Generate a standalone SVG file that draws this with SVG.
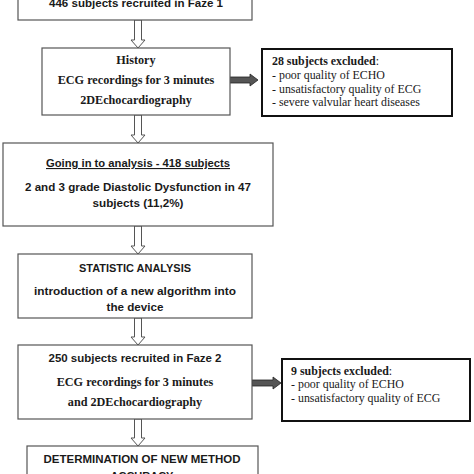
<svg xmlns="http://www.w3.org/2000/svg" width="474" height="474" viewBox="0 0 474 474">
<defs>
<style>
.box{fill:#fff;stroke:#555;stroke-width:1.2}
.ex{fill:#fff;stroke:#111;stroke-width:2}
.sans{font-family:"Liberation Sans",Arial,sans-serif;font-weight:bold;font-size:11px;fill:#1a1a1a;text-anchor:middle}
.serif{font-family:"Liberation Serif","Times New Roman",serif;font-weight:bold;font-size:12.2px;fill:#1a1a1a;text-anchor:middle}
.exs{font-family:"Liberation Serif","Times New Roman",serif;font-size:11.9px;fill:#1a1a1a}
.down{fill:#fff;stroke:#555;stroke-width:1}
.right{fill:#555;stroke:#222;stroke-width:0.8}
</style>
</defs>
<rect width="474" height="474" fill="#fff"/>
<g id="connectors">
<path class="down" d="M134.5,20 H141.5 V40 H145 L138,48 L131,40 H134.5 Z"/>
<path class="down" d="M134.5,115 H141.5 V135 H145 L138,143 L131,135 H134.5 Z"/>
<path class="down" d="M134.5,226 H141.5 V246 H145 L138,254 L131,246 H134.5 Z"/>
<path class="down" d="M134.5,318 H141.5 V337 H145 L138,345 L131,337 H134.5 Z"/>
<path class="down" d="M134.5,419 H141.5 V438 H145 L138,446 L131,438 H134.5 Z"/>
<path class="right" d="M229,77 H250 V74 L258,80 L250,86 V83 H229 Z"/>
<path class="right" d="M252,380 H273 V377 L281,383 L273,389 V386 H252 Z"/>
</g>
<g id="n1">
<rect class="box" x="18" y="-10" width="234" height="30"/>
<text class="sans" x="136" y="7" textLength="174" lengthAdjust="spacingAndGlyphs">446 subjects recruited in Faze 1</text>
</g>
<g id="n2">
<rect class="box" x="42" y="48" width="188" height="67"/>
<text class="serif" x="136" y="64">History</text>
<text class="serif" x="136" y="84">ECG recordings for 3 minutes</text>
<text class="serif" x="136" y="104">2DEchocardiography</text>
</g>
<g id="ex1">
<rect class="ex" x="262" y="49" width="190" height="67"/>
<text class="exs" x="272" y="65"><tspan font-weight="bold">28 subjects excluded</tspan>:</text>
<text class="exs" x="272" y="79">- poor quality of ECHO</text>
<text class="exs" x="272" y="92.5">- unsatisfactory quality of ECG</text>
<text class="exs" x="272" y="106">- severe valvular heart diseases</text>
</g>
<g id="n3">
<rect class="box" x="3" y="143" width="270" height="83"/>
<text class="sans" x="138" y="167" textLength="184" lengthAdjust="spacingAndGlyphs" text-decoration="underline">Going in to analysis - 418 subjects</text>
<text class="sans" x="138" y="191" textLength="226" lengthAdjust="spacingAndGlyphs">2 and 3 grade Diastolic Dysfunction in  47</text>
<text class="sans" x="138" y="207" textLength="91" lengthAdjust="spacingAndGlyphs">subjects (11,2%)</text>
</g>
<g id="n4">
<rect class="box" x="18" y="254" width="234" height="64"/>
<text class="sans" x="135" y="272" textLength="112" lengthAdjust="spacingAndGlyphs">STATISTIC ANALYSIS</text>
<text class="sans" x="135" y="295" textLength="202" lengthAdjust="spacingAndGlyphs">introduction of a new algorithm into</text>
<text class="sans" x="135" y="311" textLength="57" lengthAdjust="spacingAndGlyphs">the device</text>
</g>
<g id="n5">
<rect class="box" x="18" y="345" width="234" height="74"/>
<text class="sans" x="135" y="362" textLength="173" lengthAdjust="spacingAndGlyphs">250 subjects recruited in Faze 2</text>
<text class="serif" x="135" y="386">ECG recordings for 3 minutes</text>
<text class="serif" x="135" y="406">and 2DEchocardiography</text>
</g>
<g id="ex2">
<rect class="ex" x="282" y="359" width="188" height="62"/>
<text class="exs" x="291" y="375"><tspan font-weight="bold">9 subjects excluded</tspan>:</text>
<text class="exs" x="291" y="388">- poor quality of ECHO</text>
<text class="exs" x="291" y="402">- unsatisfactory quality of ECG</text>
</g>
<g id="n6">
<rect class="box" x="27" y="446" width="231" height="40"/>
<text class="sans" x="142" y="463" textLength="197" lengthAdjust="spacingAndGlyphs">DETERMINATION OF NEW METHOD</text>
<text class="sans" x="142" y="480">ACCURACY</text>
</g>
</svg>
